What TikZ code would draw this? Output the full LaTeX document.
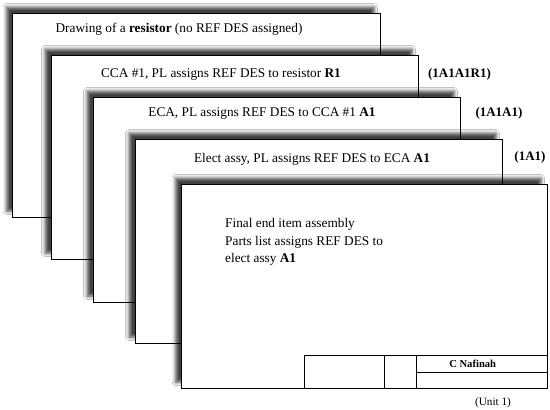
\documentclass[tikz,border=0pt]{standalone}
\usepackage{fontspec}
\setmainfont{Liberation Serif}
\usetikzlibrary{shadows.blur}
\begin{document}
\begin{tikzpicture}[x=1pt,y=-1pt,
  sheet/.style={draw=black, line width=1pt, fill=white,
    blur shadow={shadow xshift=-6pt, shadow yshift=6pt, shadow blur radius=3.5pt, shadow opacity=75}},
  lbl/.style={font=\fontsize{13.3}{17.5}\selectfont, anchor=base, inner sep=0pt},
  tag/.style={font=\fontsize{13}{16}\selectfont\bfseries, anchor=base, inner sep=0pt},
  small/.style={font=\fontsize{11.2}{13}\selectfont, anchor=base, inner sep=0pt},
  tb/.style={draw=black, line width=1pt}]
\useasboundingbox (0,0) rectangle (550,410);
\path[fill=white] (0,0) rectangle (550,410);
% sheets
\draw[sheet] (12.5,13) rectangle (380,217);
\draw[sheet] (51,55) rectangle (418,259);
\draw[sheet] (93,97) rectangle (460,302);
\draw[sheet] (135,139) rectangle (502,343);
\draw[sheet] (181.5,184) rectangle (547,388);
% texts
\node[lbl] (t1) at (179,32) {Drawing of a \textbf{resistor} (no REF DES assigned)};
\node[lbl] (t2) at (221,77) {CCA \#1, PL assigns REF DES to resistor \textbf{R1}};
\node[tag] (g2) at (459.5,77) {(1A1A1R1)};
\node[lbl] (t3) at (262,116.5) {ECA, PL assigns REF DES to CCA \#1 \textbf{A1}};
\node[tag] (g3) at (499,116) {(1A1A1)};
\node[lbl] (t4) at (312,162.5) {Elect assy, PL assigns REF DES to ECA \textbf{A1}};
\node[tag] (g4) at (530,160) {(1A1)};
\node[lbl, anchor=base west] (f1) at (225,227.7) {Final end item assembly};
\node[lbl, anchor=base west] (f2) at (225,245.2) {Parts list assigns REF DES to};
\node[lbl, anchor=base west] (f3) at (225,262.7) {elect assy \textbf{A1}};
% title block
\coordinate (a) at (304,355.7);
\coordinate (b) at (547,355.7);
\draw[tb] (a) -- (b);
\draw[tb] (304,355.7) -- (304,388);
\draw[tb] (384,355.7) -- (384,388);
\draw[tb] (416,355.7) -- (416,388);
\draw[tb] (416,372) -- (547,372);
\node[font=\fontsize{10.6}{12}\selectfont\bfseries, anchor=base, inner sep=0pt] (cn) at (472.7,367.3) {C Nafinah};
\node[small] (u) at (493,405) {(Unit 1)};
\end{tikzpicture}
\end{document}
